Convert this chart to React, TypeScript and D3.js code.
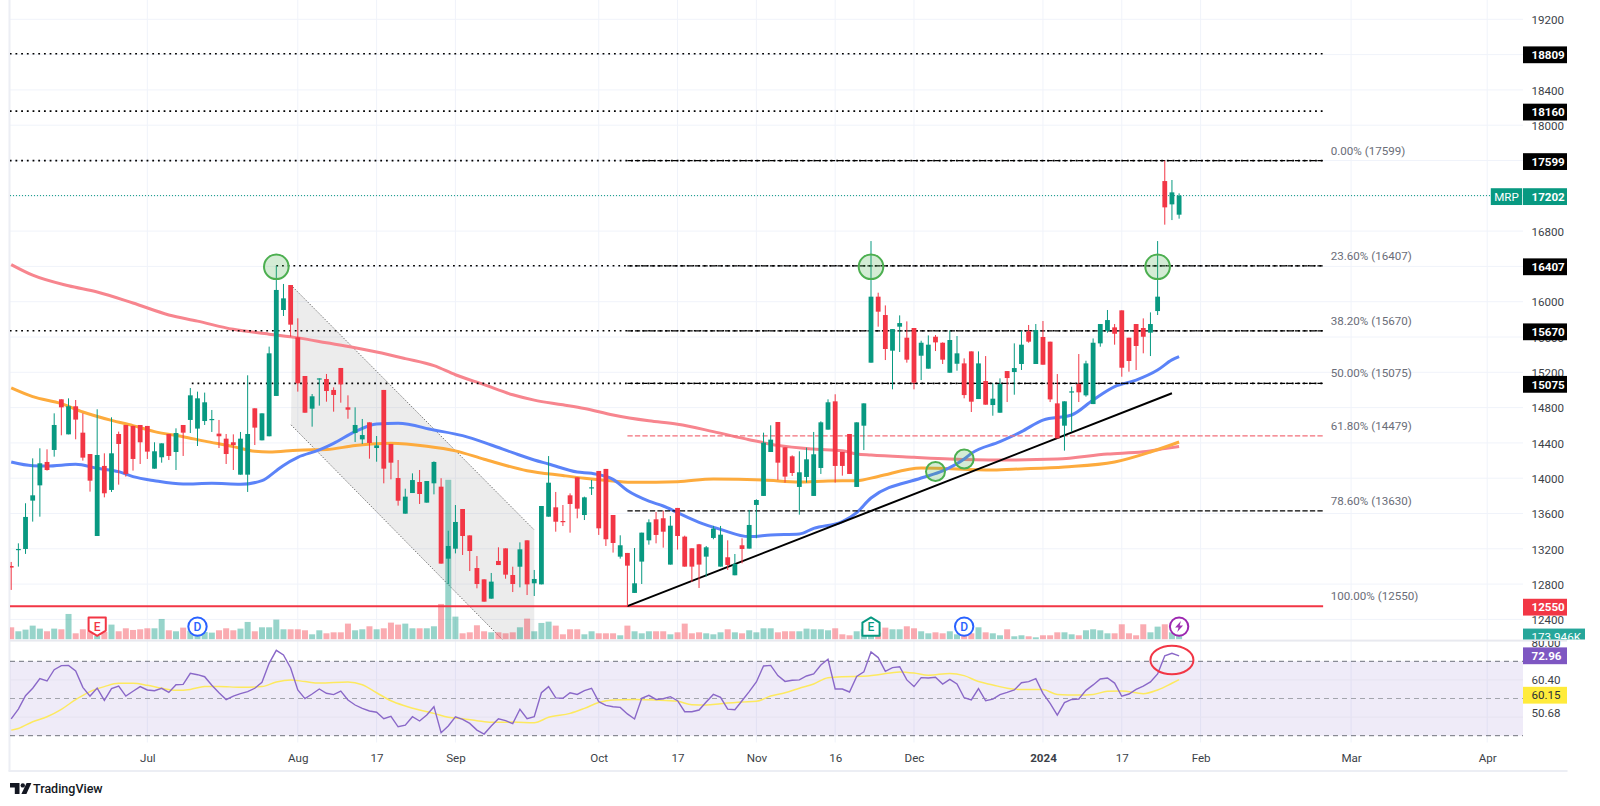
import React, { useEffect, useRef } from "react";
import * as d3 from "d3";

// daily candles
const opens = [
  13005,13187,13198,13746,13919,14184,14320,14894,14497,14815,
  14516,14274,13345,14139,13867,14501,14603,14592,14603,14592,
  14108,14237,14501,14297,14603,14660,14562,14648,14660,14505,
  14448,14407,14040,14040,14792,14429,14475,14932,15906,16189,
  15596,15158,14788,15124,15124,15000,15249,14803,14512,14440,
  14633,14342,15000,14387,14002,13598,13832,13957,13723,13942,
  13904,13088,13201,13651,13352,12982,12854,12635,13062,13205,
  12903,12997,13296,12809,12797,13564,13670,13515,13806,14010,
  13583,13885,14082,14105,13583,13111,13153,12700,13055,13296,
  13534,13546,13021,13663,13338,13206,13251,13111,13323,12998,
  13104,12900,13240,13202,13697,13799,14297,14637,14350,14248,
  13901,14014,13799,14116,14550,14871,14297,14501,13901,14595,
  15309,16057,15849,15445,15717,15592,15702,15388,15241,15603,
  15535,15195,15297,15301,15437,14897,15101,14829,14742,15214,
  15203,15294,15664,15294,15600,15547,14848,14595,14973,15067,
  14939,14840,15528,15671,15709,15902,15592,15747,15702,15649,
  15894,17367,17103,16986,
];
const highs = [
  13051,13262,13716,14225,14339,14327,14735,14894,14905,14886,
  14735,14274,14781,14282,14690,14528,14603,14596,14603,14592,
  14407,14395,14501,14565,14603,15022,14981,14970,14773,14660,
  14501,14497,14524,15166,14792,14735,15491,16407,16201,16189,
  15812,15158,14954,15131,15181,15030,15249,14939,14803,14671,
  14633,14478,15000,14387,14206,13881,14055,14093,13968,14191,
  14000,13405,13696,13651,13352,13118,12854,12926,13217,13205,
  12997,13273,13296,12960,13685,14251,13844,13696,13828,14010,
  13791,13980,14082,14105,13583,13353,13153,13209,13383,13534,
  13617,13632,13572,13663,13349,13206,13255,13232,13459,13459,
  13296,13141,13319,13640,13761,14516,14599,14637,14350,14259,
  14305,14346,14524,14645,14894,14951,14297,14501,14633,14848,
  16687,16102,15958,15690,15845,15777,15702,15558,15618,15622,
  15539,15675,15611,15358,15437,15437,15384,15075,15131,15214,
  15528,15671,15736,15747,15781,15547,15180,14871,15037,15407,
  15331,15584,15747,15906,15747,15902,15592,15747,15811,15879,
  16687,17599,17379,17228,
];
const lows = [
  12734,12998,13142,13508,13564,14086,14244,14486,14497,14441,
  14199,13848,13345,13783,13844,13927,14018,14086,14161,14218,
  14108,14176,14206,14093,14252,14512,14365,14603,14524,14342,
  14161,14093,14040,13844,14376,14429,14475,14932,15838,15604,
  14981,14742,14584,14822,14867,14754,14856,14674,14410,14387,
  14221,14187,13942,13987,13689,13598,13832,13708,13723,13817,
  13032,12801,13148,13130,12948,12752,12601,12635,13016,12861,
  12710,12763,12676,12665,12797,13564,13394,13458,13383,13545,
  13526,13810,13357,13232,13157,13089,12550,12700,12801,13247,
  13262,13213,13021,13191,12998,12824,12756,12885,13308,12998,
  12960,12900,13036,13202,13319,13799,14297,13980,13950,14025,
  13587,13950,13799,14048,14550,13950,14029,14048,13901,14319,
  15309,15717,15339,15007,15430,15309,15007,15112,15241,15441,
  15294,15195,15218,14905,14750,14897,14833,14708,14742,14863,
  14946,15226,15535,15294,15286,14863,14451,14312,14527,14863,
  14924,14840,15490,15649,15513,15150,15207,15226,15415,15384,
  15849,16873,16925,16941,
];
const closes = [
  12987,13198,13561,13806,14169,14093,14603,14803,14815,14664,
  14233,13972,14263,13829,14282,14388,14048,14218,14407,14301,
  14305,14395,14252,14512,14516,14939,14905,14860,14671,14475,
  14274,14376,14448,14501,14573,14735,15415,16133,16038,15740,
  15075,14742,14928,15131,14988,14943,15063,14776,14603,14489,
  14399,14372,14108,14176,13745,13791,13979,13821,13968,14184,
  13032,13232,13504,13345,13175,12801,12601,12828,13016,12907,
  12801,13194,12797,12858,13685,13949,13507,13504,13708,13655,
  13783,13897,13432,13308,13266,13240,13009,12809,13383,13500,
  13357,13394,13462,13345,12998,12998,13021,13217,13428,13360,
  13017,13028,13198,13470,13753,14403,14437,14176,14018,14059,
  14067,14214,14271,14633,14860,14139,14139,14048,14633,14848,
  16057,15887,15464,15690,15758,15343,15082,15535,15513,15539,
  15343,15566,15415,14942,14867,15301,14833,14901,15067,15135,
  15248,15513,15547,15679,15286,14893,14451,14871,14984,14973,
  15301,15535,15747,15792,15637,15252,15328,15498,15603,15747,
  16057,17069,17239,17202,
];

// volume in thousands
const volumes = [
  482,322,389,549,429,322,429,402,1018,241,
  402,322,134,295,590,322,442,375,402,442,
  442,817,362,322,469,348,241,295,268,362,
  442,362,429,697,322,482,482,791,402,402,
  402,362,201,362,241,281,281,630,362,402,
  523,402,442,670,590,630,442,442,442,523,
  1420,6405,911,241,281,563,322,281,281,241,
  281,482,831,322,657,710,549,201,402,402,
  201,322,241,241,241,161,549,322,241,322,
  322,322,201,281,630,241,281,241,201,281,
  402,281,241,362,281,442,442,281,322,322,
  322,429,402,402,362,442,201,161,322,402,
  161,268,469,402,402,523,442,322,241,281,
  241,322,201,161,241,482,281,241,161,402,
  121,161,121,80,161,161,281,281,201,161,
  362,402,362,241,241,603,241,161,603,281,
  509,603,281,174,
];

const rsiValues = [
  39.0,44.3,51.5,55.5,60.7,59.4,65.5,67.7,67.8,64.8,
  56.0,51.3,55.6,49.0,55.3,56.7,51.3,53.9,56.4,54.6,
  54.2,55.5,53.3,57.4,57.6,63.5,62.8,61.7,57.1,53.1,
  49.4,51.3,52.6,53.7,55.5,58.7,68.9,75.9,73.4,66.4,
  54.6,49.9,52.4,55.1,52.8,52.1,54.0,49.2,46.5,44.7,
  43.3,42.6,39.1,40.4,34.8,35.7,40.2,37.9,41.1,45.6,
  31.6,35.2,40.2,38.8,36.6,33.0,30.9,35.2,39.1,38.1,
  36.5,44.2,39.1,40.2,53.1,56.4,50.3,50.1,53.1,52.2,
  54.2,55.5,48.3,46.3,45.6,45.2,41.7,39.0,50.1,51.7,
  49.5,49.9,51.0,48.8,42.9,42.9,43.8,48.1,52.2,50.6,
  44.3,44.0,48.8,53.7,58.9,67.5,67.8,62.3,59.2,59.8,
  60.0,62.1,63.2,68.0,71.1,55.1,55.1,53.5,61.9,64.3,
  75.0,72.0,64.6,66.6,67.1,60.0,56.4,61.2,61.0,61.4,
  57.8,60.3,57.8,50.4,49.2,55.3,48.8,49.7,52.1,53.3,
  54.6,58.5,59.1,60.7,52.8,47.4,41.1,47.8,49.5,49.7,
  54.4,57.3,60.5,61.0,58.3,51.2,52.4,54.9,56.7,58.9,
  63.2,73.0,74.3,72.96,
];

// smooth lines, read at the bars listed next to them
const rsiMaBars = [0,1,3,5,7,9,11,13,15,17,19,21,23,25,27,29,32,35,37,39,41,43,47,49,51,53,55,57,59,61,63,65,67,70,73,75,78,80,82,84,87,90,93,95,97,99,102,104,106,108,110,112,114,116,119,121,124,126,128,131,133,135,137,139,141,144,146,149,151,153,155,158,160,162,163];
const rsiMaValues = [33.0,33.9,37.5,40.2,44.2,49.4,53.7,56.4,58.2,58.2,57.1,55.5,54.4,54.9,56.4,56.5,56.0,56.4,58.9,60.0,59.1,58.3,58.9,57.4,53.1,48.8,46.0,43.8,42.0,39.9,39.1,38.1,37.2,37.3,37.0,39.9,42.0,44.7,47.8,49.2,49.5,49.2,48.5,46.7,46.5,47.2,48.1,48.5,51.3,53.1,55.5,57.8,61.2,61.7,61.9,62.8,64.3,63.7,62.5,63.5,62.3,59.1,57.3,55.5,54.9,54.8,52.2,51.9,52.2,53.9,54.0,52.6,54.6,58.2,60.15];

const redMaBars = [0,3,8,12,17,22,26,31,36,40,44,48,51,55,59,62,66,70,73,77,80,84,89,93,98,103,107,112,116,118,120,126,131,138,146,153,158,161,163];
const redMaValues = [16420,16300,16180,16110,15985,15850,15780,15687,15632,15590,15535,15479,15430,15355,15275,15172,15060,14945,14885,14832,14790,14716,14650,14612,14528,14436,14372,14330,14310,14275,14262,14236,14217,14206,14217,14274,14300,14335,14360];

const orangeMaBars = [0,3,7,10,14,17,20,24,27,31,34,36,40,44,48,53,58,62,66,72,77,80,84,87,93,98,105,110,114,118,121,127,137,141,147,154,159,163];
const orangeMaValues = [15023,14924,14845,14750,14655,14596,14528,14470,14420,14358,14305,14297,14318,14325,14370,14395,14362,14310,14215,14085,14030,14000,13969,13953,13961,13991,13980,13957,13969,13972,14020,14115,14093,14105,14128,14184,14297,14410];

const blueMaBars = [0,3,5,9,12,15,17,20,24,28,32,35,37,38,40,43,45,48,51,54,59,63,67,70,73,75,79,81,84,86,89,91,93,96,99,103,106,110,112,116,118,120,127,130,133,134,138,141,144,148,151,154,157,160,162,163];
const blueMaValues = [14184,14142,14138,14157,14112,14074,14018,13972,13935,13942,13931,13972,14085,14145,14237,14320,14395,14527,14614,14622,14546,14482,14376,14289,14206,14161,14070,14055,13987,13860,13740,13685,13610,13500,13420,13338,13357,13368,13432,13508,13610,13776,14002,14082,14217,14281,14414,14527,14659,14716,14886,15037,15112,15226,15340,15377];

// axis ticks
const priceTicks = [19200,18800,18400,18000,17600,17200,16800,16400,16000,15600,15200,14800,14400,14000,13600,13200,12800,12400];
const timeTickBars = [19,40,51,62,82,93,104,115,126,144,155,166,187,206];
const timeTickLabels = ["Jul","Aug","17","Sep","Oct","17","Nov","16","Dec","2024","17","Feb","Mar","Apr"];
const rsiTicks = [80,60.4,50.68];
const rsiGrid = [60,40];

// drawings
const fibRatios = ["0.00%","23.60%","38.20%","50.00%","61.80%","78.60%","100.00%"];
const fibLevels = [17599,16407,15670,15075,14479,13630,12550];
const dottedLevels = [18809,18160,17599,16407,15670,15075];
const dottedFromBar = [-0.2,-0.2,-0.2,37,-0.2,25.2];
const blackLabels = [18809,18160,17599,16407,15670,15075];
const bigCircleBars = [37,120,160];
const smallCircleBars = [129,133];
const smallCirclePrices = [14076,14218];
const channelBars = [39.3,73,73,39.05];
const channelPrices = [16167,13414,11804,14605];
const trendBars = [86,162];
const trendPrices = [12550,14962];

const UP = "#089981";
const DOWN = "#f23645";
const GRID = "#f0f3fa";
const FONT = "Roboto, sans-serif";
const LABEL_SIZE = 11.6;

const W = 1600;
const H = 806;
const LEFT = 10;
const AXIS_X = 1523;
const PANE_BOTTOM = 639.4;
const RSI_BOTTOM = 742.5;
const FIB_END_BAR = 183.1;

export default function App() {
  const svgRef = useRef<SVGSVGElement | null>(null);

  useEffect(() => {
    if (!svgRef.current) return;
    const svg = d3.select(svgRef.current);
    svg.selectAll("*").remove();

    const x = d3.scaleLinear().domain([0, 166]).range([11.2, 1200.6]);
    const y = d3.scaleLinear().domain([12400, 19200]).range([619.4, 19.3]);
    const yVol = d3.scaleLinear().domain([0, 1000]).range([639.3, 614.4]);
    const yRsi = d3.scaleLinear().domain([30, 70]).range([735.7, 661.3]);

    const defs = svg.append("defs");
    const addClip = (id: string, cx: number, cy: number, cw: number, ch: number) =>
      defs.append("clipPath").attr("id", id).append("rect")
        .attr("x", cx).attr("y", cy).attr("width", cw).attr("height", ch);
    addClip("main-pane", LEFT, 0, AXIS_X - LEFT, PANE_BOTTOM);
    addClip("vol-label", AXIS_X, 600, 70, PANE_BOTTOM - 600);
    addClip("rsi-axis", AXIS_X, 641, 60, 100);

    svg.append("rect").attr("width", W).attr("height", H).attr("fill", "#fff");

    // grid
    const grid = svg.append("g").attr("stroke", GRID).attr("stroke-width", 1);
    grid.selectAll("line.h").data(priceTicks).enter().append("line")
      .attr("x1", LEFT).attr("x2", AXIS_X)
      .attr("y1", (d) => y(d)).attr("y2", (d) => y(d));
    grid.selectAll("line.v").data(timeTickBars).enter().append("line")
      .attr("x1", (d) => x(d)).attr("x2", (d) => x(d))
      .attr("y1", 0).attr("y2", RSI_BOTTOM);

    // frame and pane separators
    svg.append("rect").attr("x", 8.5).attr("y", 0).attr("width", 2).attr("height", 771).attr("fill", "#eceef4");
    svg.append("rect").attr("x", 8.5).attr("y", 770).attr("width", 1559).attr("height", 2).attr("fill", "#eceef4");
    svg.append("rect").attr("x", LEFT).attr("y", 639.6).attr("width", 1557).attr("height", 2).attr("fill", "#e8e9ef");

    // rsi band
    svg.append("rect")
      .attr("x", LEFT).attr("width", AXIS_X - LEFT)
      .attr("y", yRsi(70)).attr("height", yRsi(30) - yRsi(70))
      .attr("fill", "#7e57c2").attr("fill-opacity", 0.12);
    svg.append("g").selectAll("line").data(rsiGrid).enter().append("line")
      .attr("x1", LEFT).attr("x2", AXIS_X)
      .attr("y1", (d) => yRsi(d)).attr("y2", (d) => yRsi(d))
      .attr("stroke", "#e6e3f0");
    svg.append("g").selectAll("line").data([70, 50, 30]).enter().append("line")
      .attr("x1", LEFT).attr("x2", AXIS_X)
      .attr("y1", (d) => yRsi(d)).attr("y2", (d) => yRsi(d))
      .attr("stroke", (d) => (d === 50 ? "#a3a5ad" : "#6f727c"))
      .attr("stroke-dasharray", "5,4");

    const main = svg.append("g").attr("clip-path", "url(#main-pane)");

    // falling channel
    const channel = channelBars.map((b, i) => [x(b), y(channelPrices[i])] as [number, number]);
    main.append("polygon")
      .attr("points", channel.map((p) => p.join(",")).join(" "))
      .attr("fill", "#808080").attr("fill-opacity", 0.15);
    [[0, 1], [3, 2]].forEach(([a, b]) => {
      main.append("line")
        .attr("x1", channel[a][0]).attr("y1", channel[a][1])
        .attr("x2", channel[b][0]).attr("y2", channel[b][1])
        .attr("stroke", "#777").attr("stroke-dasharray", "1.5,1.5");
    });

    // volume
    main.selectAll("rect.vol").data(volumes).enter().append("rect")
      .attr("x", (_, i) => x(i) - 3)
      .attr("width", 6)
      .attr("y", (d) => yVol(d))
      .attr("height", (d) => yVol(0) - yVol(d))
      .attr("fill", (_, i) => (closes[i] >= opens[i] ? UP : DOWN))
      .attr("fill-opacity", 0.42);

    // moving averages
    const drawMa = (bars: number[], values: number[], color: string) => {
      const line = d3.line<number>()
        .x((_, i) => x(bars[i]))
        .y((d) => y(d))
        .curve(d3.curveMonotoneX);
      main.append("path").attr("d", line(values))
        .attr("fill", "none").attr("stroke", color).attr("stroke-width", 3)
        .attr("stroke-linejoin", "round");
    };
    drawMa(redMaBars, redMaValues, "#f7858e");
    drawMa(orangeMaBars, orangeMaValues, "#fdab3d");
    drawMa(blueMaBars, blueMaValues, "#5b83f8");

    // last price line
    main.append("line")
      .attr("x1", LEFT).attr("x2", 1491)
      .attr("y1", y(closes[closes.length - 1])).attr("y2", y(closes[closes.length - 1]))
      .attr("stroke", UP).attr("stroke-dasharray", "1,2");

    // dotted levels
    main.selectAll("line.dot").data(dottedLevels).enter().append("line")
      .attr("x1", (_, i) => x(dottedFromBar[i])).attr("x2", x(FIB_END_BAR))
      .attr("y1", (d) => y(d)).attr("y2", (d) => y(d))
      .attr("stroke", "#000").attr("stroke-width", 1.6)
      .attr("stroke-dasharray", "1.8,3.9");

    // fib lines
    main.selectAll("line.fib").data(fibLevels).enter().append("line")
      .attr("x1", (_, i) => (i === 6 ? LEFT : x(86))).attr("x2", x(FIB_END_BAR))
      .attr("y1", (d) => y(d)).attr("y2", (d) => y(d))
      .attr("stroke", (_, i) => (i === 4 ? "#f26f7a" : i === 6 ? DOWN : "#000"))
      .attr("stroke-width", (_, i) => (i === 6 ? 2 : 1.3))
      .attr("stroke-dasharray", (_, i) => (i === 6 ? null : "5.3,2.2"));

    // trend line
    main.append("line")
      .attr("x1", x(trendBars[0])).attr("y1", y(trendPrices[0]))
      .attr("x2", x(trendBars[1])).attr("y2", y(trendPrices[1]))
      .attr("stroke", "#000").attr("stroke-width", 2);

    // candles
    const candles = main.selectAll("g.candle").data(closes).enter().append("g")
      .attr("fill", (d, i) => (d >= opens[i] ? UP : DOWN))
      .attr("stroke", (d, i) => (d >= opens[i] ? UP : DOWN));
    candles.append("line")
      .attr("x1", (_, i) => x(i)).attr("x2", (_, i) => x(i))
      .attr("y1", (_, i) => y(highs[i])).attr("y2", (_, i) => y(lows[i]));
    candles.append("rect")
      .attr("x", (_, i) => x(i) - 2.4)
      .attr("width", 4.8)
      .attr("y", (d, i) => y(Math.max(d, opens[i])))
      .attr("height", (d, i) => Math.max(1.2, Math.abs(y(d) - y(opens[i]))))
      .attr("stroke", "none");

    // circles
    const circleStyle = (sel: any) =>
      sel.attr("fill", "#4caf50").attr("fill-opacity", 0.24)
        .attr("stroke", "#4caf50").attr("stroke-width", 2);
    main.selectAll("circle.big").data(bigCircleBars).enter().append("circle")
      .attr("cx", (d) => x(d)).attr("cy", y(16407) + 1).attr("r", 12.3)
      .call(circleStyle);
    main.selectAll("circle.small").data(smallCircleBars).enter().append("circle")
      .attr("cx", (d) => x(d)).attr("cy", (_, i) => y(smallCirclePrices[i])).attr("r", 9.5)
      .call(circleStyle);

    // fib labels
    svg.append("g").selectAll("text").data(fibLevels).enter().append("text")
      .attr("x", 1330.7).attr("y", (d) => y(d) - 10).attr("dy", "0.35em")
      .attr("font-family", FONT).attr("font-size", LABEL_SIZE).attr("fill", "#6a6d78")
      .text((d, i) => `${fibRatios[i]} (${d})`);

    // event markers
    const markerY = 626.6;
    const marker = (bar: number, color: string) =>
      svg.append("g").attr("transform", `translate(${x(bar)},${markerY})`)
        .attr("stroke", color).attr("stroke-width", 2).attr("fill", "#fff");
    const markerText = (g: any, s: string, color: string) =>
      g.append("text").text(s).attr("text-anchor", "middle").attr("dy", "0.36em")
        .attr("stroke", "none").attr("fill", color)
        .attr("font-family", FONT).attr("font-size", 12).attr("font-weight", 500);

    const eDown = marker(12, DOWN);
    eDown.append("path").attr("d", "M-8.6,-9.2H8.6V4L0,9.2L-8.6,4Z").attr("stroke-linejoin", "round");
    markerText(eDown, "E", DOWN);
    const eUp = marker(120, UP);
    eUp.append("path").attr("d", "M-8.6,9.2H8.6V-4L0,-9.2L-8.6,-4Z").attr("stroke-linejoin", "round");
    markerText(eUp, "E", UP);
    [26, 133].forEach((b) => {
      const g = marker(b, "#2962ff");
      g.append("circle").attr("r", 9.2);
      markerText(g, "D", "#2962ff");
    });
    const bolt = marker(163, "#9c27b0");
    bolt.attr("fill-opacity", 0.95);
    bolt.append("circle").attr("r", 9.2);
    bolt.append("path").attr("d", "M1.8,-5.5L-4,1H-0.6L-1.8,5.5L4,-1H0.6Z").attr("fill", "#9c27b0").attr("stroke", "none");

    // rsi lines
    const rsiMa = d3.line<number>()
      .x((_, i) => x(rsiMaBars[i]))
      .y((d) => yRsi(d))
      .curve(d3.curveMonotoneX);
    svg.append("path").attr("d", rsiMa(rsiMaValues))
      .attr("fill", "none").attr("stroke", "#fde95f").attr("stroke-width", 1.5);
    const rsiLine = d3.line<number>().x((_, i) => x(i)).y((d) => yRsi(d));
    svg.append("path").attr("d", rsiLine(rsiValues))
      .attr("fill", "none").attr("stroke", "#8a68c8").attr("stroke-width", 1.4);

    svg.append("ellipse")
      .attr("cx", x(162)).attr("cy", yRsi(70.7)).attr("rx", 21.5).attr("ry", 14.3)
      .attr("fill", "none").attr("stroke", DOWN).attr("stroke-width", 2);

    // price axis
    const styleAxis = (g: any) => {
      g.select(".domain").remove();
      g.attr("font-family", FONT).attr("font-size", LABEL_SIZE);
      g.selectAll("text").attr("fill", "#3c3f48");
    };
    svg.append("g")
      .attr("transform", "translate(1531.5,0.5)")
      .call(d3.axisRight(y).tickValues(priceTicks).tickSize(0).tickPadding(0).tickFormat(d3.format("d")) as any)
      .call(styleAxis);

    // rsi axis; the last two labels sit lower than their value, pushed by the chart
    const rsiAxis = svg.append("g").attr("clip-path", "url(#rsi-axis)").append("g")
      .attr("transform", "translate(1531.5,0.5)")
      .call(d3.axisRight(yRsi).tickValues(rsiTicks).tickSize(0).tickPadding(0).tickFormat(d3.format(".2f")) as any)
      .call(styleAxis);
    rsiAxis.selectAll("g.tick").filter((d: any) => d === 50.68)
      .attr("transform", (d: any) => `translate(0,${yRsi(d) + 15.6})`);

    // time axis
    svg.append("g")
      .attr("transform", "translate(0,753.5)")
      .call(
        d3.axisBottom(x).tickValues(timeTickBars).tickSize(0).tickPadding(0)
          .tickFormat((_, i) => timeTickLabels[i]) as any
      )
      .call(styleAxis)
      .selectAll("text")
      .attr("font-weight", (_: any, i: number) => (timeTickLabels[i] === "2024" ? 700 : 400));

    // value boxes
    const valueBox = (parent: any, cy: number, fill: string, label: string, color = "#fff", weight = 700, boxW = 44) => {
      parent.append("rect").attr("x", AXIS_X).attr("y", cy - 8.4).attr("width", boxW).attr("height", 16.8).attr("fill", fill);
      parent.append("text").attr("x", 1531.5).attr("y", cy).attr("dy", "0.36em")
        .attr("font-family", FONT).attr("font-size", LABEL_SIZE).attr("font-weight", weight)
        .attr("fill", color).text(label);
    };
    blackLabels.forEach((v) => valueBox(svg, y(v) + 1, "#000", String(v)));
    valueBox(svg, y(12550) + 1, DOWN, "12550");
    const lastClose = closes[closes.length - 1];
    valueBox(svg, y(lastClose) + 1, UP, String(lastClose));
    svg.append("rect").attr("x", 1490.8).attr("y", y(lastClose) - 7.4).attr("width", 31.4).attr("height", 16.8).attr("fill", UP);
    svg.append("text").attr("x", 1506.5).attr("y", y(lastClose) + 1).attr("dy", "0.36em")
      .attr("text-anchor", "middle").attr("font-family", FONT).attr("font-size", LABEL_SIZE)
      .attr("fill", "#fff").text("MRP");

    const volBox = svg.append("g").attr("clip-path", "url(#vol-label)");
    valueBox(volBox, yVol(volumes[volumes.length - 1]) + 2, "#26a69a", "173.946K", "#fff", 400, 62);
    valueBox(svg, yRsi(rsiValues[rsiValues.length - 1]), "#7e57c2", "72.96");
    valueBox(svg, yRsi(rsiMaValues[rsiMaValues.length - 1]) + 15.6, "#ffeb3b", "60.15", "#2a2e39", 400);

    // logo
    const logo = svg.append("g").attr("fill", "#131722");
    logo.append("path").attr("d", "M10,783H19.5V794H14.8V787.6H10Z");
    logo.append("circle").attr("cx", 22.8).attr("cy", 785.4).attr("r", 2.2);
    logo.append("path").attr("d", "M26.6,783H31.4L26.4,794H21.4Z");
    logo.append("text").attr("x", 33).attr("y", 793)
      .attr("font-family", FONT).attr("font-size", 12.5).attr("font-weight", 500)
      .text("TradingView");
  }, []);

  return (
    <svg
      ref={svgRef}
      width={W}
      height={H}
      style={{ position: "absolute", left: 0, top: 0, display: "block" }}
    />
  );
}
